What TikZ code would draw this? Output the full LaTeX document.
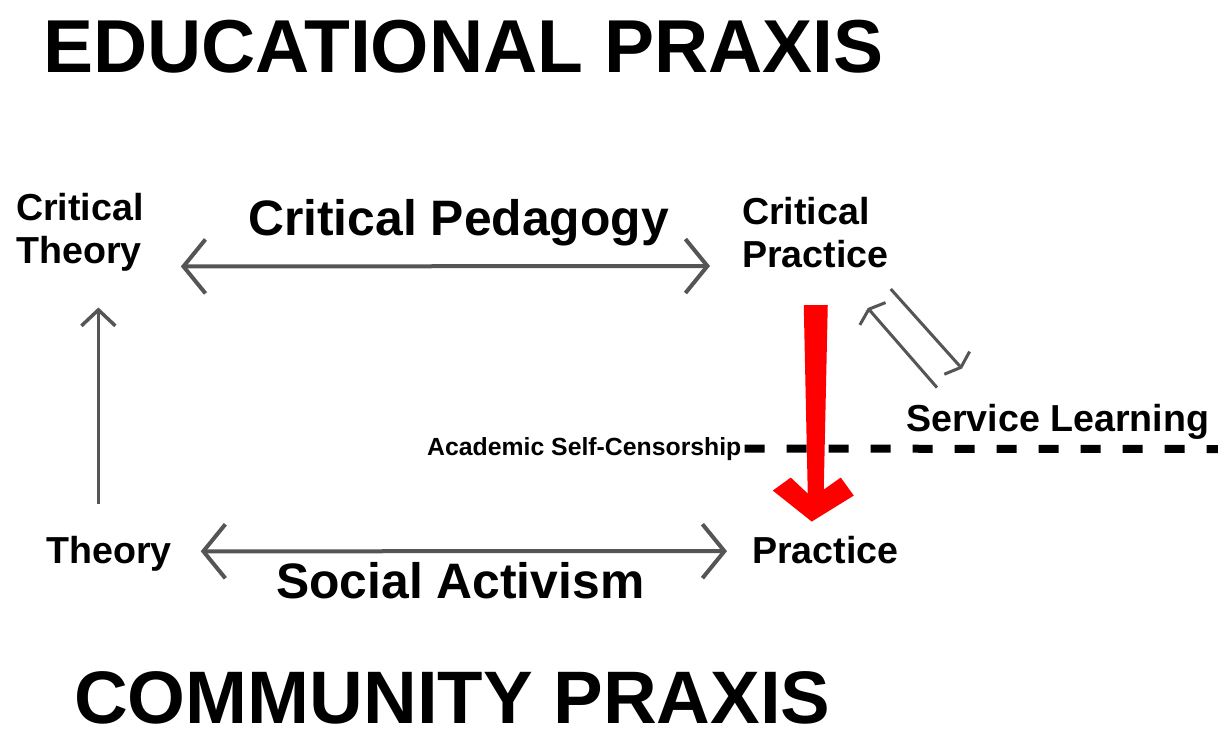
\documentclass[tikz,border=0pt]{standalone}
\usepackage{fontspec}
\setmainfont{Liberation Sans}
\usetikzlibrary{arrows.meta,calc}
\definecolor{linkgray}{RGB}{85,85,85}
\definecolor{alarm}{RGB}{255,0,0}

\begin{document}
\begin{tikzpicture}[
    x=1pt, y=-1pt,
    headline/.style={anchor=base west, inner sep=0pt, font=\bfseries\fontsize{75}{88}\selectfont},
    bigterm/.style={anchor=base west, inner sep=0pt, font=\bfseries\fontsize{49.8}{58}\selectfont},
    term/.style={inner sep=0pt, align=left, font=\bfseries\fontsize{37.6}{43}\selectfont},
    smallterm/.style={anchor=base west, inner sep=0pt, font=\bfseries\fontsize{24.8}{30}\selectfont},
    twoway/.style={arrows={Straight Barb[length=22pt,width=54pt]-Straight Barb[length=22pt,width=54pt]}, draw=linkgray, line width=4pt},
    oneway/.style={arrows={-Straight Barb[length=16pt,width=34pt]}, draw=linkgray, line width=3.5pt},
    slarrow/.style={arrows={-Straight Barb[length=6pt,width=34pt]}, draw=linkgray, line width=3pt},
    barrier/.style={draw=black, line width=8pt, dash pattern=on 20pt off 22pt}
]
    \fill[white] (0,0) rectangle (1218,740);
    \useasboundingbox (0,0) rectangle (1218,740);

    % titles
    \node[headline] (eduhead) at (43,72) {EDUCATIONAL PRAXIS};
    \node[headline, font=\bfseries\fontsize{74.4}{88}\selectfont] (comhead) at (74,723) {COMMUNITY PRAXIS};

    % the four corners
    \node[term, anchor=north west] (crittheory) at (16,193) {Critical\\Theory};
    \node[term, anchor=north west] (critpractice) at (742,197) {Critical\\Practice};
    \node[term, anchor=base west] (theory) at (46,563) {Theory};
    \node[term, anchor=base west] (practice) at (752,563) {Practice};

    % labels
    \node[bigterm] (pedagogy) at (248,235) {Critical Pedagogy};
    \node[bigterm] (activism) at (276,598) {Social Activism};
    \node[term, anchor=base west] (service) at (906,431) {Service Learning};
    \node[smallterm] (censor) at (427,455) {Academic Self-Censorship};
    \coordinate (rightedge) at (1218,449);

    \draw[twoway] ($(crittheory.south east)+(37,-5)$) -- ($(critpractice.south west)+(-32,-2)$);
    \draw[twoway] ($(theory.east)+(29,-2)$) -- ($(practice.west)+(-25,1.6)$);
    \draw[oneway] ($(theory.north)+(-10.5,-32)$) -- ($(theory.north |- crittheory.south)+(-10.5,36)$);
    \draw[slarrow] ($(critpractice.south east)+(2,21)$) -- ($(service.north west)+(56,-35)$);
    \draw[slarrow] ($(service.north west)+(31,-16)$) -- ($(critpractice.south east)+(-21,40)$);

    \draw[barrier] ($(censor.east)+(3,0)$) -- (rightedge);

    \fill[alarm] ($(critpractice.south)+(-11.6,37)$) -- ($(critpractice.south)+(12.4,37)$)
        -- ($(practice.north)+(-1.6,-46)$) -- ++(17,-12) -- ++(13,18) -- ++(-42,26)
        -- ++(-39,-31) -- ++(18,-13) -- ++(17,16) -- cycle;
\end{tikzpicture}
\end{document}
